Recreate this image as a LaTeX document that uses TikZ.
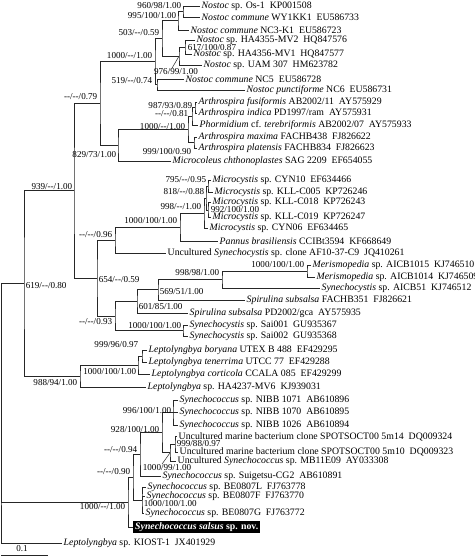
\documentclass[tikz,border=0pt]{standalone}
\usepackage{fontspec}
\setmainfont{Liberation Serif}[Ligatures=TeXOff]
\usetikzlibrary{calc}

\tikzset{
	br/.style={line width=0.9pt, black!85},
	leaf/.style={anchor=west, inner sep=1.5pt, font=\fontsize{9.8}{10}\selectfont},
	bs/.style={inner sep=0.6pt, font=\fontsize{9.1}{9.5}\selectfont},
}

\begin{document}
\begin{tikzpicture}[x=1pt, y=-1pt]
	\useasboundingbox (0,0) rectangle (474,557);

	% leaves
	\node [leaf] (os1) at (200,6) {\textit{Nostoc} sp. Os-1\ \ KP001508};
	\node [leaf] (wy) at (200,17) {\textit{Nostoc commune} WY1KK1\ \ EU586733};
	\node [leaf] (nc3) at (189,30) {\textit{Nostoc commune} NC3-K1\ \ EU586723};
	\node [leaf] (ha55) at (195,40.5) {\textit{Nostoc} sp. HA4355-MV2\ \ HQ847576};
	\node [leaf] (ha56) at (192,54.5) {\textit{Nostoc} sp. HA4356-MV1\ \ HQ847577};
	\node [leaf] (uam) at (202,65) {\textit{Nostoc} sp. UAM 307\ \ HM623782};
	\node [leaf] (nc5) at (184,79) {\textit{Nostoc commune} NC5\ \ EU586728};
	\node [leaf] (nc6) at (245,90) {\textit{Nostoc punctiforme} NC6\ \ EU586731};
	\node [leaf] (fus) at (197,102) {\textit{Arthrospira fusiformis} AB2002/11\ \ AY575929};
	\node [leaf] (ind) at (197,113) {\textit{Arthrospira indica} PD1997/ram\ \ AY575931};
	\node [leaf] (phor) at (198,125) {\textit{Phormidium} cf. \textit{terebriformis} AB2002/07\ \ AY575933};
	\node [leaf] (max) at (197,137) {\textit{Arthrospira maxima} FACHB438\ \ FJ826622};
	\node [leaf] (pla) at (197,148) {\textit{Arthrospira platensis} FACHB834\ \ FJ826623};
	\node [leaf] (mic) at (171,161) {\textit{Microcoleus chthonoplastes} SAG 2209\ \ EF654055};
	\node [leaf] (cyn10) at (211,180) {\textit{Microcystis} sp. CYN10\ \ EF634466};
	\node [leaf] (k005) at (213,192) {\textit{Microcystis} sp. KLL-C005\ \ KP726246};
	\node [leaf] (k018) at (211,202.5) {\textit{Microcystis} sp. KLL-C018\ \ KP726243};
	\node [leaf] (k019) at (211,217.5) {\textit{Microcystis} sp. KLL-C019\ \ KP726247};
	\node [leaf] (cyn06) at (208,228.5) {\textit{Microcystis} sp. CYN06\ \ EF634465};
	\node [leaf] (pan) at (218,241) {\textit{Pannus brasiliensis} CCIBt3594\ \ KF668649};
	\node [leaf] (unc) at (166,253) {Uncultured \textit{Synechocystis} sp. clone AF10-37-C9\ \ JQ410261};
	\node [leaf] (mer15) at (311,265) {\textit{Merismopedia} sp. AICB1015\ \ KJ746510};
	\node [leaf] (mer14) at (315,277) {\textit{Merismopedia} sp. AICB1014\ \ KJ746509};
	\node [leaf] (aicb) at (320,288) {\textit{Synechocystis} sp. AICB51\ \ KJ746512};
	\node [leaf] (spf) at (245,300) {\textit{Spirulina subsalsa} FACHB351\ \ FJ826621};
	\node [leaf] (spp) at (188,313) {\textit{Spirulina subsalsa} PD2002/gca\ \ AY575935};
	\node [leaf] (sai1) at (188,325) {\textit{Synechocystis} sp. Sai001\ \ GU935367};
	\node [leaf] (sai2) at (188,336) {\textit{Synechocystis} sp. Sai002\ \ GU935368};
	\node [leaf] (lbor) at (147,350) {\textit{Leptolyngbya boryana} UTEX B 488\ \ EF429295};
	\node [leaf] (lten) at (147,362) {\textit{Leptolyngbya tenerrima} UTCC 77\ \ EF429288};
	\node [leaf] (lcor) at (150,374) {\textit{Leptolyngbya corticola} CCALA 085\ \ EF429299};
	\node [leaf] (lha) at (146,387) {\textit{Leptolyngbya} sp. HA4237-MV6\ \ KJ939031};
	\node [leaf] (nb71) at (178,400) {\textit{Synechococcus} sp. NIBB 1071\ \ AB610896};
	\node [leaf] (nb70) at (178,412) {\textit{Synechococcus} sp. NIBB 1070\ \ AB610895};
	\node [leaf] (nb26) at (178,425) {\textit{Synechococcus} sp. NIBB 1026\ \ AB610894};
	\node [leaf] (m14) at (177,436.5) {Uncultured marine bacterium clone SPOTSOCT00 5m14\ \ DQ009324};
	\node [leaf] (m10) at (178,452) {Uncultured marine bacterium clone SPOTSOCT00 5m10\ \ DQ009323};
	\node [leaf] (mb11) at (176,461.5) {Uncultured \textit{Synechococcus} sp. MB11E09\ \ AY033308};
	\node [leaf] (sui) at (161,476) {\textit{Synechococcus} sp. Suigetsu-CG2\ \ AB610891};
	\node [leaf] (bel) at (146,487) {\textit{Synechococcus} sp. BE0807L\ \ FJ763778};
	\node [leaf] (bef) at (145,496) {\textit{Synechococcus} sp. BE0807F\ \ FJ763770};
	\node [leaf] (beg) at (144,513) {\textit{Synechococcus} sp. BE0807G\ \ FJ763772};
	\node [leaf, fill=black, text=white, inner sep=2pt] (sal) at (133,527) {\textbf{\textit{Synechococcus salsus}} \textbf{sp. nov.}};
	\node [leaf] (kio) at (62,543) {\textit{Leptolyngbya} sp. KIOST-1\ \ JX401929};

	% internal nodes
	\coordinate (n960) at (183,11.5);
	\coordinate (n995) at (178,20.75);
	\coordinate (n617) at (185,47.5);
	\coordinate (n976) at (179,56.25);
	\coordinate (n503) at (162,38.5);
	\coordinate (n519) at (157,84.5);
	\coordinate (n1000a) at (155,61.5);
	\coordinate (n987) at (195,107.5);
	\coordinate (n081) at (192,116.25);
	\coordinate (n999a) at (194,142.5);
	\coordinate (n1000b) at (188,129.4);
	\coordinate (n829) at (118,145.2);
	\coordinate (n079) at (100,103.4);
	\coordinate (n795) at (208,186);
	\coordinate (n992) at (208,210);
	\coordinate (n818) at (206,198);
	\coordinate (n998a) at (204,213);
	\coordinate (n1000c) at (180,227);
	\coordinate (n096) at (115,240);
	\coordinate (n1000d) at (307,271);
	\coordinate (n998b) at (222,279.5);
	\coordinate (n569) at (158,289.75);
	\coordinate (n601) at (137,301.4);
	\coordinate (n1000e) at (183,330.5);
	\coordinate (n093) at (115,316);
	\coordinate (n654) at (97,278);
	\coordinate (n939) at (74,190.7);
	\coordinate (n999c) at (142,356);
	\coordinate (n1000f) at (138,365);
	\coordinate (n988) at (80,376);
	\coordinate (n619) at (24,283.4);
	\coordinate (n996) at (173,412.5);
	\coordinate (n999d) at (175,444.25);
	\coordinate (n1000g) at (170,452.9);
	\coordinate (n928) at (162,432.7);
	\coordinate (n094) at (140,454.3);
	\coordinate (n1000h) at (142,500);
	\coordinate (n090) at (133,477);
	\coordinate (n1000i) at (128,502);
	\coordinate (ningrp) at (1.5,392.7);
	\coordinate (root) at (1,468);

	% branches
	\draw [br] (os1.west) -| (n960) |- (wy.west);
	\draw [br] (n960) -| (n995) |- (nc3.west);
	\draw [br] (ha55.west) -| (n617) |- (ha56.west);
	\draw [br] (n617) -| (n976) |- (uam.west);
	\draw [br] (n995) -| (n503) |- (n976);
	\draw [br] (nc5.west) -| (n519) |- (nc6.west);
	\draw [br] (n503) -| (n1000a) |- (n519);
	\draw [br] (fus.west) -| (n987) |- (ind.west);
	\draw [br] (n987) -| (n081) |- (phor.west);
	\draw [br] (max.west) -| (n999a) |- (pla.west);
	\draw [br] (n081) -| (n1000b) |- (n999a);
	\draw [br] (n1000b) -| (n829) |- (mic.west);
	\draw [br] (n1000a) -| (n079) |- (n829);
	\draw [br] (cyn10.west) -| (n795) |- (k005.west);
	\draw [br] (k018.west) -| (n992) |- (k019.west);
	\draw [br] (n795) -| (n818) |- (n992);
	\draw [br] (n818) -| (n998a) |- (cyn06.west);
	\draw [br] (n998a) -| (n1000c) |- (pan.west);
	\draw [br] (n1000c) -| (n096) |- (unc.west);
	\draw [br] (mer15.west) -| (n1000d) |- (mer14.west);
	\draw [br] (n1000d) -| (n998b) |- (aicb.west);
	\draw [br] (n998b) -| (n569) |- (spf.west);
	\draw [br] (n569) -| (n601) |- (spp.west);
	\draw [br] (sai1.west) -| (n1000e) |- (sai2.west);
	\draw [br] (n601) -| (n093) |- (n1000e);
	\draw [br] (n096) -| (n654) |- (n093);
	\draw [br] (n079) -| (n939) |- (n654);
	\draw [br] (lbor.west) -| (n999c) |- (lten.west);
	\draw [br] (n999c) -| (n1000f) |- (lcor.west);
	\draw [br] (n1000f) -| (n988) |- (lha.west);
	\draw [br] (n939) -| (n619) |- (n988);
	\draw [br] (nb71.west) -| (n996) |- (nb26.west) (n996) |- (nb70.west);
	\draw [br] (m14.west) -| (n999d) |- (m10.west);
	\draw [br] (n999d) -| (n1000g) |- (mb11.west);
	\draw [br] (n996) -| (n928) |- (n1000g);
	\draw [br] (n928) -| (n094) |- (sui.west);
	\draw [br] (bel.west) -| (n1000h) |- (beg.west) (n1000h) |- (bef.west);
	\draw [br] (n094) -| (n090) |- (n1000h);
	\draw [br] (n090) -| (n1000i) |- (sal.west);
	\draw [br] (n619) -| (ningrp) |- (n1000i);
	\draw [br] (ningrp) -| (root) |- (kio.west);

	% support values
	\node [bs, anchor=east] (l960) at (182,6) {960/98/1.00};
	\node [bs, anchor=east] (l995) at (177,16) {995/100/1.00};
	\node [bs, anchor=east] (l503) at (160,33) {503/--/0.59};
	\node [bs, anchor=west] (l617) at (187,47.5) {617/100/0.87};
	\node [bs] (l976) at (176,72) {976/99/1.00};
	\node [bs, anchor=east] (l1000a) at (153,56) {1000/--/1.00};
	\node [bs, anchor=east] (l519) at (153,81) {519/--/0.74};
	\node [bs, anchor=east] (l079) at (98,97) {--/--/0.79};
	\node [bs, anchor=east] (l987) at (193,106) {987/93/0.89};
	\node [bs, anchor=east] (l081) at (189,114) {--/--/0.81};
	\node [bs, anchor=east] (l1000b) at (186,127) {1000/--/1.00};
	\node [bs, anchor=east] (l999a) at (192,152) {999/100/0.90};
	\node [bs, anchor=east] (l829) at (117,155) {829/73/1.00};
	\node [bs, anchor=east] (l939) at (73,187) {939/--/1.00};
	\node [bs, anchor=east] (l795) at (207,180) {795/--/0.95};
	\node [bs, anchor=east] (l818) at (205,192) {818/--/0.88};
	\node [bs, anchor=east] (l998a) at (202,207) {998/--/1.00};
	\node [bs, anchor=west] (l992) at (210,210) {992/100/1.00};
	\node [bs, anchor=east] (l1000c) at (178,221) {1000/100/1.00};
	\node [bs, anchor=east] (l096) at (113,235) {--/--/0.96};
	\node [bs, anchor=west] (l654) at (98,280) {654/--/0.59};
	\node [bs, anchor=east] (l998b) at (220,273) {998/98/1.00};
	\node [bs, anchor=east] (l1000d) at (305,265) {1000/100/1.00};
	\node [bs, anchor=west] (l569) at (159,292) {569/51/1.00};
	\node [bs, anchor=west] (l601) at (138,307) {601/85/1.00};
	\node [bs, anchor=east] (l093) at (113,322) {--/--/0.93};
	\node [bs, anchor=east] (l1000e) at (182,326) {1000/100/1.00};
	\node [bs, anchor=west] (l619) at (25,286) {619/--/0.80};
	\node [bs, anchor=east] (l999c) at (139,345) {999/96/0.97};
	\node [bs, anchor=east] (l1000f) at (137,372) {1000/100/1.00};
	\node [bs, anchor=east] (l988) at (78,383) {988/94/1.00};
	\node [bs, anchor=east] (l996) at (172,411) {996/100/1.00};
	\node [bs, anchor=east] (l928) at (160,430) {928/100/1.00};
	\node [bs, anchor=west] (l999d) at (176,444) {999/88/0.97};
	\node [bs] (l1000g) at (167,468) {1000/99/1.00};
	\node [bs, anchor=east] (l094) at (138,450) {--/--/0.94};
	\node [bs, anchor=east] (l090) at (131,472) {--/--/0.90};
	\node [bs, anchor=west] (l1000h) at (143,504) {1000/100/1.00};
	\node [bs, anchor=east] (l1000i) at (126,507) {1000/--/1.00};

	\draw [br, line width=0.5pt] ([xshift=-4pt]l976.north) -- (n976);
	\draw [br, line width=0.5pt] ([xshift=-5pt]l1000g.north) -- (n1000g);

	% scale bar
	\coordinate (sb0) at (1,555);
	\coordinate (sb1) at (48,555);
	\draw [br] (sb0) -- (sb1);
	\node [bs] (sbl) at (22,549) {0.1};
\end{tikzpicture}
\end{document}
